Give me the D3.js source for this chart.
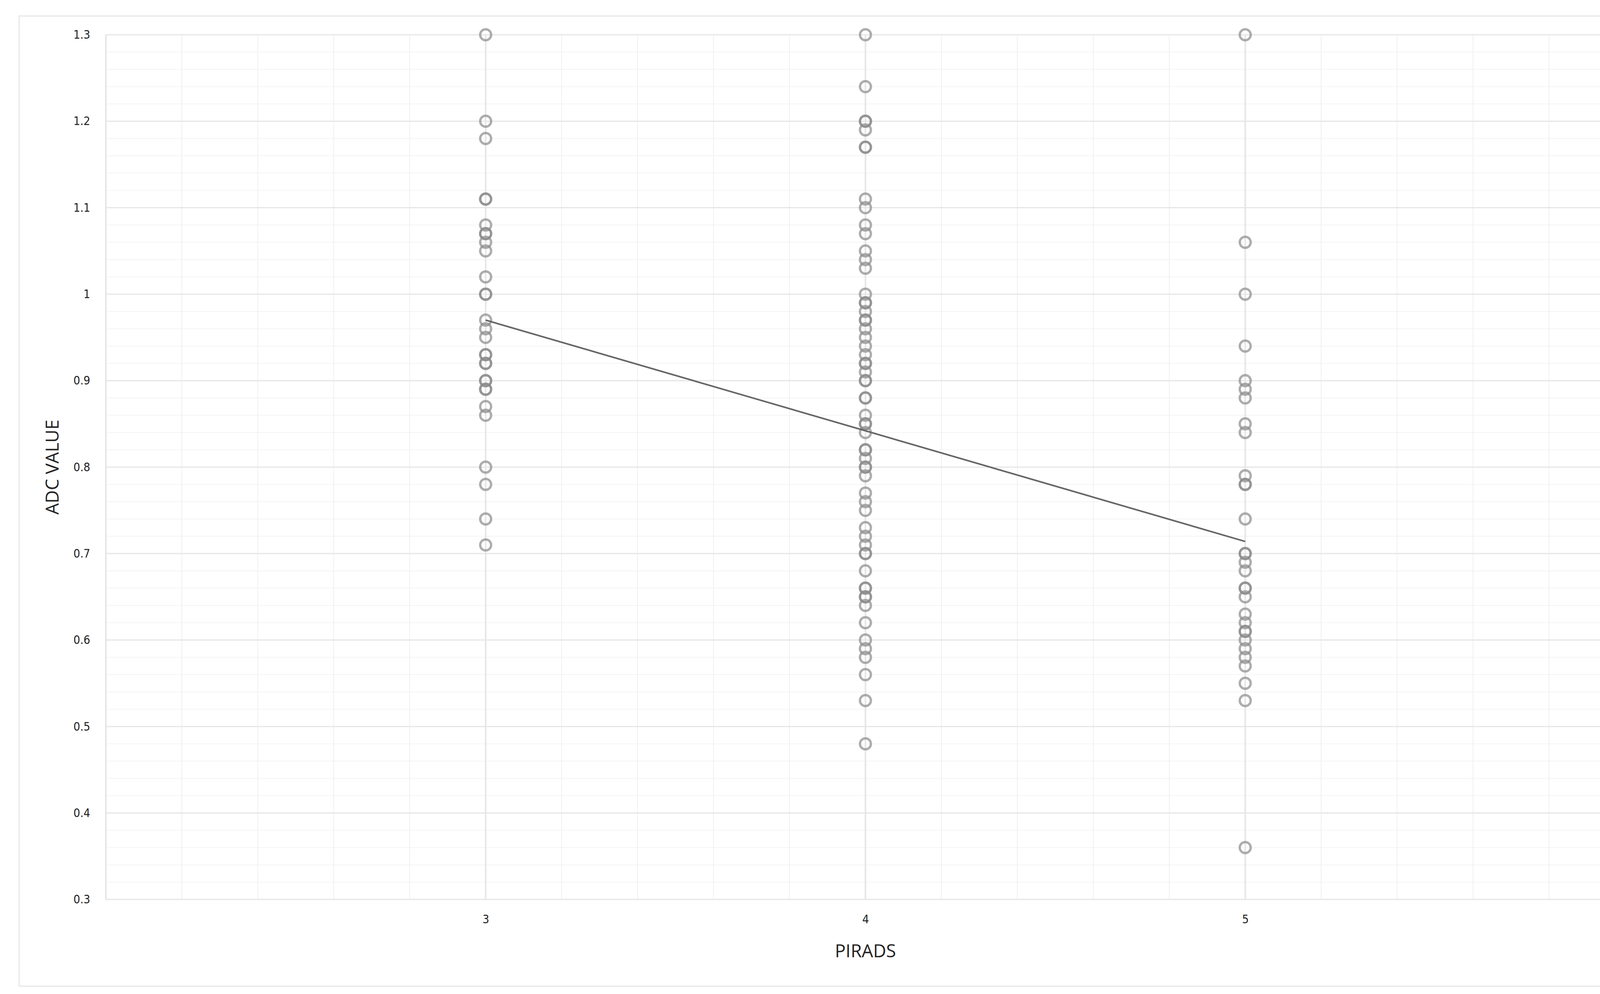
<!DOCTYPE html>
<html><head><meta charset="utf-8">
<script src="https://cdn.jsdelivr.net/npm/d3@7"></script>
<style>body{margin:0;background:#fff}text{font-family:"Open Sans",sans-serif}</style>
</head><body><svg id="chart" width="4220" height="2544"></svg>
<script>
// ADC values per PIRADS group
const pirads3 = [1.3,1.2,1.18,1.11,1.11,1.08,1.07,1.07,1.06,1.05,1.02,1.0,1.0,0.97,0.96,0.95,0.93,0.93,0.92,0.92,0.9,0.9,0.89,0.89,0.87,0.86,0.80,0.78,0.74,0.71];
const pirads4 = [1.3,1.24,1.2,1.2,1.19,1.17,1.17,1.11,1.10,1.08,1.07,1.05,1.04,1.03,1.0,0.99,0.99,0.98,0.97,0.97,0.96,0.95,0.94,0.93,0.92,0.92,0.91,0.90,0.90,0.88,0.88,0.86,0.85,0.85,0.84,0.82,0.82,0.81,0.80,0.80,0.79,0.77,0.76,0.75,0.73,0.72,0.71,0.70,0.70,0.68,0.66,0.66,0.65,0.65,0.64,0.62,0.60,0.59,0.58,0.56,0.53,0.48];
const pirads5 = [1.3,1.06,1.0,0.94,0.90,0.89,0.88,0.85,0.84,0.79,0.78,0.78,0.74,0.70,0.70,0.69,0.68,0.66,0.66,0.65,0.63,0.62,0.61,0.61,0.60,0.59,0.58,0.57,0.55,0.53,0.36];
const trendX = [3, 5];
const trendY = [0.97, 0.714];
const xTicks = [3, 4, 5];
const yTicks = [0.3,0.4,0.5,0.6,0.7,0.8,0.9,1,1.1,1.2,1.3];

const svg = d3.select("#chart");
const plotLeft = 271, plotRight = 4160, plotTop = 89, plotBottom = 2302;

const x = d3.scaleLinear().domain([2, 6]).range([plotLeft, plotRight]);
const y = d3.scaleLinear().domain([0.3, 1.3]).range([plotBottom, plotTop]);

// outer frame
svg.append("rect").attr("x", 49).attr("y", 41).attr("width", 4117).attr("height", 2483)
    .attr("fill", "none").attr("stroke", "#ececec").attr("stroke-width", 4);

// minor grid
const g = svg.append("g");
g.selectAll(".hmin").data(d3.range(0.3, 1.3001, 0.02)).join("line")
    .attr("x1", plotLeft).attr("x2", plotRight).attr("y1", d => y(d)).attr("y2", d => y(d))
    .attr("stroke", "#f4f4f4").attr("stroke-width", 2);
g.selectAll(".vmin").data(d3.range(2, 6.001, 0.2)).join("line")
    .attr("y1", plotTop).attr("y2", plotBottom).attr("x1", d => x(d)).attr("x2", d => x(d))
    .attr("stroke", "#f0f0f0").attr("stroke-width", 2);
// major grid
g.selectAll(".hmaj").data(yTicks).join("line")
    .attr("x1", plotLeft).attr("x2", plotRight).attr("y1", d => y(d)).attr("y2", d => y(d))
    .attr("stroke", "#e6e6e6").attr("stroke-width", 3);
g.selectAll(".vmaj").data([2, ...xTicks, 6]).join("line")
    .attr("y1", plotTop).attr("y2", plotBottom).attr("x1", d => x(d)).attr("x2", d => x(d))
    .attr("stroke", "#e6e6e6").attr("stroke-width", 4);

// axes (labels only)
const yAxis = svg.append("g").attr("transform", `translate(${plotLeft},0)`)
    .call(d3.axisLeft(y).tickValues(yTicks).tickFormat(d => String(+d.toFixed(1))).tickSize(0).tickPadding(40));
const xAxis = svg.append("g").attr("transform", `translate(0,${plotBottom})`)
    .call(d3.axisBottom(x).tickValues(xTicks).tickFormat(d3.format("d")).tickSize(0).tickPadding(40));
[yAxis, xAxis].forEach(a => {
    a.select(".domain").remove();
    a.selectAll("text").attr("font-size", 30).attr("fill", "#222").style("font-family", "'Liberation Sans Narrow','DejaVu Sans Condensed',sans-serif");
});

// points
const groups = [[3, pirads3], [4, pirads4], [5, pirads5]];
groups.forEach(([k, vals]) => {
    svg.append("g").selectAll("circle").data(vals).join("circle")
        .attr("cx", x(k)).attr("cy", d => y(d)).attr("r", 14)
        .attr("fill", "none").attr("stroke", "#8a8a8a").attr("stroke-opacity", 0.7).attr("stroke-width", 6);
});

// trend line
svg.append("line")
    .attr("x1", x(trendX[0])).attr("y1", y(trendY[0]))
    .attr("x2", x(trendX[1])).attr("y2", y(trendY[1]))
    .attr("stroke", "#666").attr("stroke-width", 4);

// axis titles
svg.append("text").attr("transform", `translate(150,${(plotTop + plotBottom) / 2}) rotate(-90)`)
    .attr("text-anchor", "middle").attr("font-size", 46).attr("fill", "#222").text("ADC VALUE");
svg.append("text").attr("x", x(4)).attr("y", 2450).attr("text-anchor", "middle")
    .attr("font-size", 46).attr("fill", "#222").text("PIRADS");
</script></body></html>
